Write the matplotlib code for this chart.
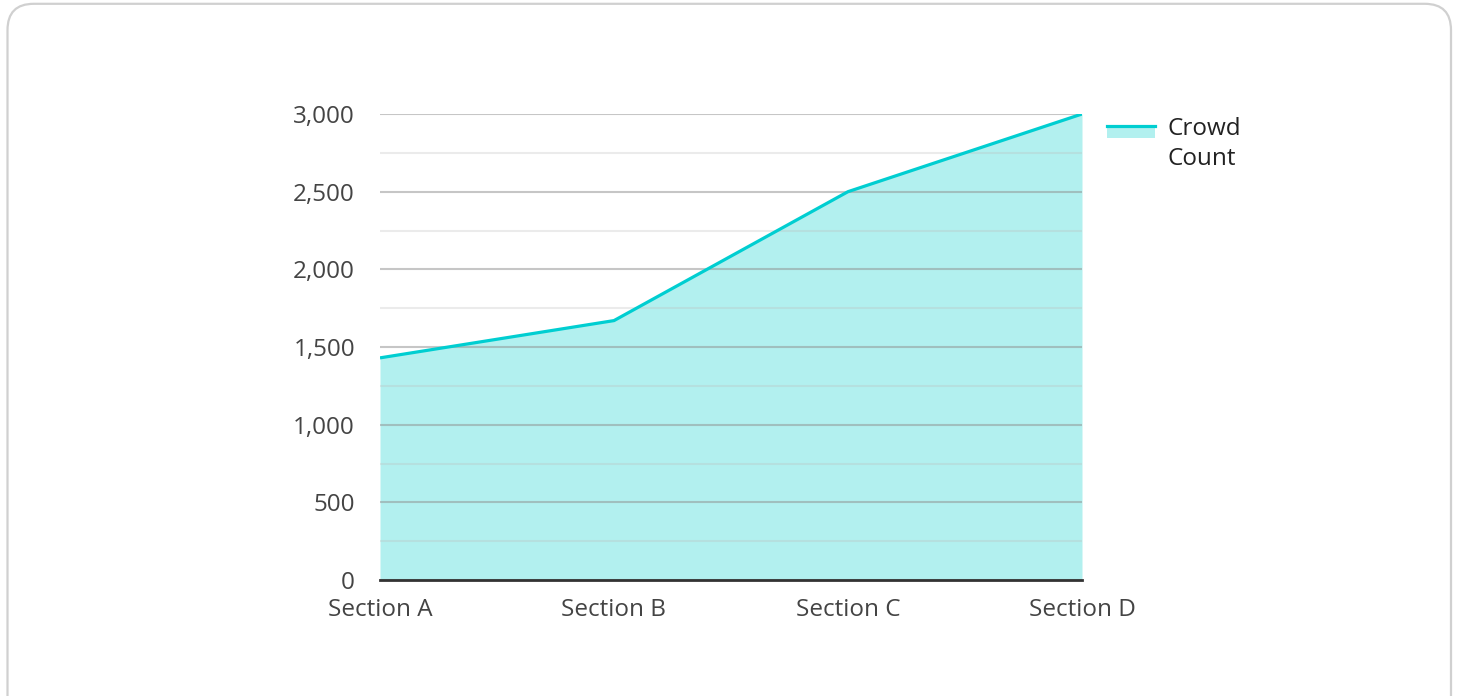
import matplotlib
matplotlib.use("Agg")
import matplotlib.pyplot as plt
from matplotlib.patches import FancyBboxPatch, Rectangle
from matplotlib.lines import Line2D
from matplotlib.legend_handler import HandlerBase
from matplotlib.ticker import MultipleLocator, FuncFormatter

# data
sections = ["Section A", "Section B", "Section C", "Section D"]
crowd_count = [1430, 1670, 2500, 3000]

LINE = "#00CED1"
FILL = "#b2f0ef"
FS = 17.5

plt.rcParams["font.family"] = ["Open Sans", "DejaVu Sans"]

fig = plt.figure(figsize=(14.58, 6.96), dpi=100)

# rounded card border
card = FancyBboxPatch((7.5 / 1458, -0.05), 1443.5 / 1458, (692 + 35) / 696 - 0.0,
                      boxstyle="round,pad=0,rounding_size=0.018",
                      transform=fig.transFigure, facecolor="none",
                      edgecolor="#d0d0d0", linewidth=1.6, mutation_aspect=2.1,
                      zorder=-1)
fig.patches.append(card)

ax = fig.add_axes([380 / 1458, 116 / 696, 702 / 1458, 466 / 696])
ax.set_facecolor("none")

x = list(range(len(sections)))
ax.fill_between(x, crowd_count, 0, color=FILL, linewidth=0, zorder=1)
ax.plot(x, crowd_count, color=LINE, linewidth=2.3, zorder=3, solid_capstyle="butt")

ax.set_xlim(0, len(sections) - 1)
ax.set_ylim(0, 3000)
ax.set_xticks(x)
ax.set_xticklabels(sections)
ax.yaxis.set_major_locator(MultipleLocator(500))
ax.yaxis.set_minor_locator(MultipleLocator(250))
ax.yaxis.set_major_formatter(FuncFormatter(lambda v, p: f"{int(v):,}"))

ax.grid(axis="y", which="major", color="#8f8f8f", alpha=0.5, linewidth=1.5)
ax.grid(axis="y", which="minor", color="#bdbdbd", alpha=0.3, linewidth=1.5)

for s in ["top", "right", "left"]:
    ax.spines[s].set_visible(False)
ax.spines["bottom"].set_color("#333333")
ax.spines["bottom"].set_linewidth(2)
ax.spines["bottom"].set_zorder(4)

ax.tick_params(axis="both", which="both", length=0, labelsize=FS, labelcolor="#444444")
ax.tick_params(axis="y", pad=18)
ax.tick_params(axis="x", pad=13)


class AreaHandler(HandlerBase):
    def create_artists(self, legend, orig, xd, yd, w, h, fs, trans):
        top = yd + h
        patch = Rectangle((xd, top - 1.98 * fs), w, 0.5 * fs, facecolor=FILL,
                          edgecolor="none", transform=trans)
        line = Line2D([xd, xd + w], [top - 1.48 * fs, top - 1.48 * fs],
                      color=LINE, linewidth=2.3, transform=trans)
        return [patch, line]


handle = Line2D([], [], color=LINE)
leg = ax.legend([handle], ["Crowd\nCount"], handler_map={Line2D: AreaHandler()},
                loc="upper left", bbox_to_anchor=(1.004, 1.04), frameon=False,
                fontsize=FS, handlelength=2.0, handleheight=2.6, handletextpad=0.5,
                labelcolor="#222222")
for t in leg.get_texts():
    t.set_linespacing(1.3)

fig.savefig("out.png", dpi=100)
